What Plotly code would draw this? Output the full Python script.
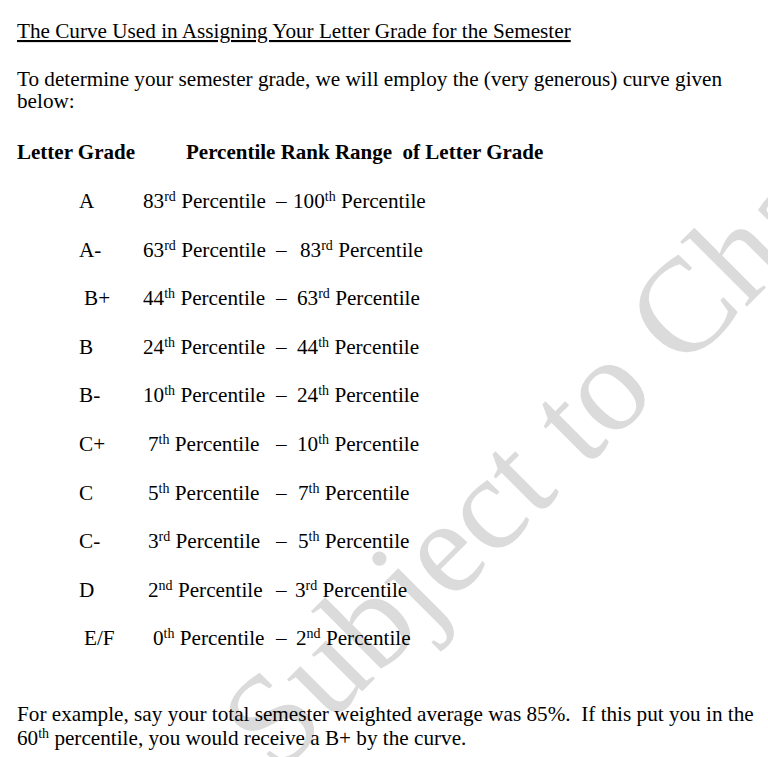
import plotly.graph_objects as go

# grading curve table
grades = ["A", "A-", "B+", "B", "B-", "C+", "C", "C-", "D", "E/F"]
lower_pct = [83, 63, 44, 24, 10, 7, 5, 3, 2, 0]
upper_pct = [100, 83, 63, 44, 24, 10, 7, 5, 3, 2]

title = "The Curve Used in Assigning Your Letter Grade for the Semester"
intro = ["To determine your semester grade, we will employ the (very generous) curve given",
         "below:"]
header_left = "Letter Grade"
header_right = "Percentile Rank Range\u00a0\u00a0of Letter Grade"
example = ["For example, say your total semester weighted average was 85%.\u00a0\u00a0If this put you in the",
           "60{th} percentile, you would receive a B+ by the curve."]
watermark = "Subject to Change"

W, H = 768, 757
FONT = "Liberation Serif"
SIZE = 21.2
# Word-style superscript: smaller and raised less than plotly's <sup>
SUP = "<span style='font-size:14px;baseline-shift:7px'>%s</span>"

# column layout (pixels)
grade_x = [79, 79, 84, 79, 79, 79, 79, 79, 79, 84]
lower_x = [143, 143, 143, 143, 143, 148, 148, 148, 148, 153]
upper_x = [293, 300, 297, 297, 297, 297, 298, 298, 295, 296]
dash_x = 281
row0_y, row_gap = 201, 48.6


def ordinal(n):
    if 11 <= n % 100 <= 13:
        return "th"
    return {1: "st", 2: "nd", 3: "rd"}.get(n % 10, "th")


def pct(n):
    return "%d%s Percentile" % (n, SUP % ordinal(n))


def txt(x, y, s, size=SIZE, bold=False, color="black", xanchor="left"):
    return dict(x=x, y=y, xref="x", yref="y", text="<b>%s</b>" % s if bold else s,
                showarrow=False, xanchor=xanchor, yanchor="middle",
                borderpad=0, borderwidth=0,
                font=dict(family=FONT, size=size, color=color))


ann = []
# watermark underneath everything
ann.append(dict(x=592, y=398, xref="x", yref="y", text=watermark, showarrow=False,
                textangle=-45, xanchor="center", yanchor="middle",
                font=dict(family=FONT, size=134, color="#dbdbdb")))

ann.append(txt(17, 31, "<u>%s</u>" % title))
ann.append(txt(17, 79, intro[0]))
ann.append(txt(17, 101, intro[1]))
ann.append(txt(17, 152, header_left, size=21, bold=True))
ann.append(txt(186, 152, header_right, size=21, bold=True))

for i, g in enumerate(grades):
    y = row0_y + i * row_gap
    ann.append(txt(grade_x[i], y, g))
    ann.append(txt(lower_x[i], y, pct(lower_pct[i])))
    ann.append(txt(dash_x, y, "\u2013", xanchor="center"))
    ann.append(txt(upper_x[i], y, pct(upper_pct[i])))

ann.append(txt(17, 714, example[0]))
ann.append(txt(17, 738, example[1].format(th=SUP % "th")))

fig = go.Figure()
fig.update_layout(
    width=W, height=H,
    margin=dict(l=0, r=0, t=0, b=0),
    paper_bgcolor="white", plot_bgcolor="white",
    xaxis=dict(range=[0, W], visible=False, fixedrange=True),
    yaxis=dict(range=[H, 0], visible=False, fixedrange=True),
    annotations=ann,
    showlegend=False,
)
# drop the default page margin so the figure sits at the window corner
fig.write_html("out.html", config={"displayModeBar": False},
               post_script="document.body.style.margin='0';")
